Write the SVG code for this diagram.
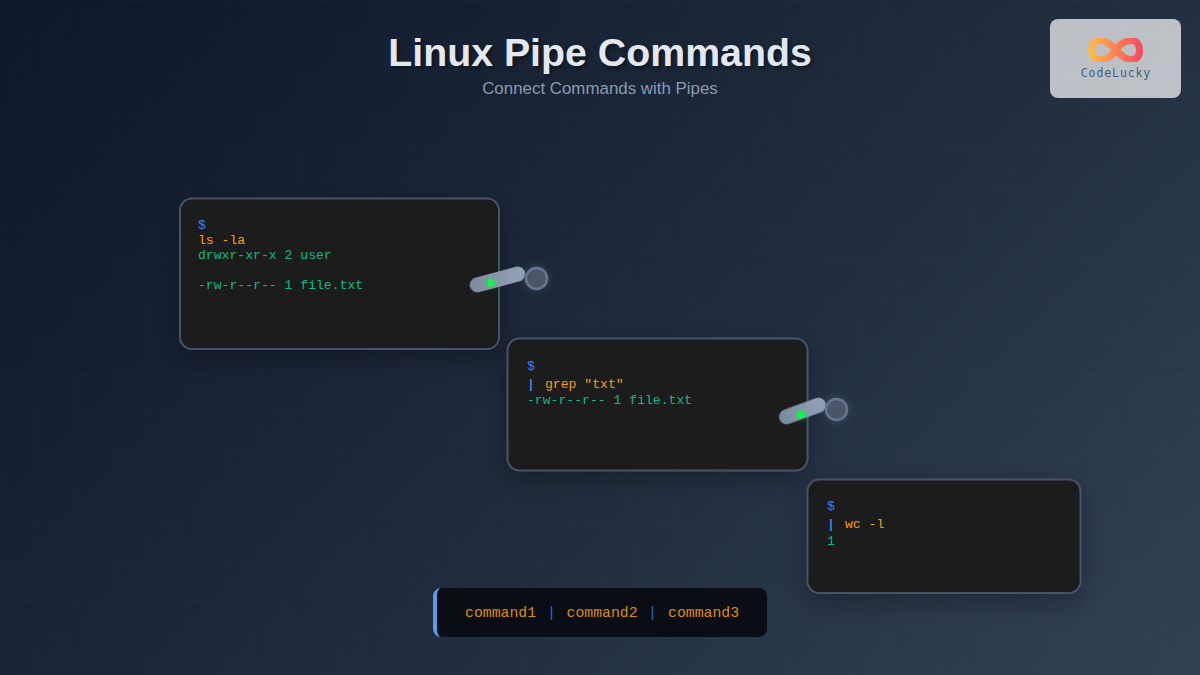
<svg xmlns="http://www.w3.org/2000/svg" width="1200" height="675" viewBox="0 0 1200 675" style="background:#1e293b">
<style>
text{text-rendering:optimizeSpeed}
.mono{font-family:"Liberation Mono",monospace}
.sans{font-family:"Liberation Sans",Arial,sans-serif}
.t{font-size:13.12px}
.s{font-size:14.8px}
.p{fill:#3b82f6}.c{fill:#f59e0b}.o{fill:#10b981}
.term{fill:#1a1a1a;stroke:#465268;stroke-width:2}
.tube{fill:url(#tubeG);filter:url(#b)}
.dot{fill:#00ff41;filter:url(#glow)}
.cap{fill:#4b5568;stroke:#667590;stroke-width:2.500;filter:url(#capg)}
</style>
<defs>
<linearGradient id="bg" gradientUnits="userSpaceOnUse" x1="131" y1="-131" x2="1069" y2="806">
<stop offset="0" stop-color="#0f172a"/><stop offset=".5" stop-color="#1e293b"/><stop offset="1" stop-color="#334155"/>
</linearGradient>
<linearGradient id="tubeG" x1="0" y1="0" x2="1" y2="0">
<stop offset="0" stop-color="#7b889e"/><stop offset="1" stop-color="#94a3b8"/>
</linearGradient>
<linearGradient id="inf" gradientUnits="userSpaceOnUse" x1="1088" y1="50" x2="1143" y2="50">
<stop offset="0" stop-color="#fbbf4a"/><stop offset="1" stop-color="#f8475f"/>
</linearGradient>
<pattern id="grid" width="37.5" height="37.5" patternUnits="userSpaceOnUse"><path d="M37.500 0H0V37.500" fill="none" stroke="#ffffff" stroke-opacity=".012"/></pattern>
<filter id="sh" x="-20%" y="-20%" width="140%" height="150%"><feDropShadow dx="0" dy="8" stdDeviation="12" flood-color="#000" flood-opacity=".3"/></filter>
<filter id="ts" x="-5%" y="-20%" width="110%" height="150%"><feGaussianBlur stdDeviation="2"/></filter>
<filter id="glow" x="-200%" y="-200%" width="500%" height="500%"><feDropShadow dx="0" dy="0" stdDeviation="3" flood-color="#00ff41" flood-opacity=".8"/></filter>
<filter id="capg" x="-50%" y="-50%" width="200%" height="200%"><feDropShadow dx="0" dy="0" stdDeviation="4" flood-color="#64748b" flood-opacity=".4"/></filter>
<filter id="b" x="-10%" y="-30%" width="120%" height="160%"><feGaussianBlur stdDeviation=".7"/></filter>
<filter id="b2" x="-10%" y="-10%" width="120%" height="120%"><feGaussianBlur stdDeviation=".5"/></filter>
</defs>
<rect width="1200" height="675" fill="url(#bg)"/>
<rect width="1200" height="675" fill="url(#grid)"/>
<g id="title">
<text class="sans" x="602" y="68" text-anchor="middle" font-weight="700" font-size="39.3" fill="#000" fill-opacity=".5" filter="url(#ts)" aria-hidden="true">Linux Pipe Commands</text>
<text class="sans" x="600" y="66" text-anchor="middle" font-weight="700" font-size="39.3" fill="#e2e8f0">Linux Pipe Commands</text>
<text class="sans" x="600" y="94" text-anchor="middle" font-size="16.9" fill="#8a9bb3">Connect Commands with Pipes</text>
</g>
<g id="logo">
<rect x="1050" y="19" width="131" height="79" rx="8" fill="#fff" fill-opacity=".7"/>
<path d="M1116 50C1110 44 1106 40.500 1100 40.500C1094 40.500 1091.500 45 1091.500 50C1091.500 56 1095 59.500 1101 59.500C1108 59.500 1112 56 1116 50C1120 44 1124 40.500 1131 40.500C1137 40.500 1139.500 45 1139.500 50C1139.500 56 1137 59.500 1131 59.500C1125 59.500 1121 56 1116 50Z" fill="none" stroke="url(#inf)" stroke-width="7" filter="url(#b2)"/>
<text x="1116" y="77" text-anchor="middle" font-family="'DejaVu Sans Mono',monospace" font-size="11.5" letter-spacing=".9" fill="#3f5d85">CodeLucky</text>
</g>
<g id="terminal1">
<rect class="term" x="180" y="198.500" width="319" height="150.500" rx="12" filter="url(#sh)"/>
<text class="mono t p" x="198" y="229">$</text>
<text class="mono t c" x="198" y="244">ls -la</text>
<text class="mono t o" x="198" y="259">drwxr-xr-x 2 user</text>
<text class="mono t o" x="198" y="289">-rw-r--r-- 1 file.txt</text>
</g>
<g id="terminal2">
<rect class="term" x="507.500" y="338.500" width="300" height="132" rx="12" filter="url(#sh)"/>
<text class="mono t p" x="527" y="370">$</text>
<text class="mono t p" x="527" y="388" font-weight="700">|</text>
<text class="mono t c" x="545" y="388">grep "txt"</text>
<text class="mono t o" x="527" y="404">-rw-r--r-- 1 file.txt</text>
</g>
<g id="terminal3">
<rect class="term" x="807.500" y="479.500" width="273" height="113.500" rx="12" filter="url(#sh)"/>
<text class="mono t p" x="827" y="510">$</text>
<text class="mono t p" x="827" y="528" font-weight="700">|</text>
<text class="mono t c" x="845" y="528">wc -l</text>
<text class="mono t o" x="827" y="545">1</text>
</g>
<g id="connectors">
<rect class="tube" x="469" y="272" width="57" height="15" rx="7.500" transform="rotate(-15 497.500 279.500)"/>
<circle class="dot" cx="491" cy="283" r="3.500"/>
<circle class="cap" cx="536.500" cy="278.500" r="10.500"/>
<rect class="tube" x="778" y="403.500" width="49" height="15" rx="7.500" transform="rotate(-20 802.500 411)"/>
<circle class="dot" cx="801" cy="414.500" r="3.500"/>
<circle class="cap" cx="836.500" cy="409.500" r="10.500"/>
</g>
<g id="syntax">
<rect x="433" y="588" width="334" height="49" rx="8" fill="#0a0e14"/>
<path d="M441 588A8 8 0 0 0 433 596V629A8 8 0 0 0 441 637A5 8 0 0 1 437 629V596A5 8 0 0 1 441 588Z" fill="#5b9be8"/>
<text class="mono s c" x="465" y="617" fill-opacity=".9">command1</text>
<text class="mono s p" x="547" y="617" fill-opacity=".8">|</text>
<text class="mono s c" x="566.500" y="617" fill-opacity=".9">command2</text>
<text class="mono s p" x="648" y="617" fill-opacity=".8">|</text>
<text class="mono s c" x="668" y="617" fill-opacity=".9">command3</text>
</g>
</svg>
